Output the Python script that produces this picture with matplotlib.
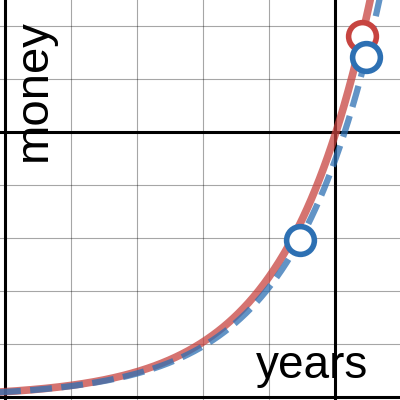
import matplotlib

matplotlib.use("Agg")
import matplotlib.pyplot as plt
import numpy as np

# growth models: money = start * exp(rate * years)
red_start, red_rate = 0.1, 0.78
blue_start, blue_rate = 0.095, 0.77
red_point_x = [5.41]
blue_point_x = [4.47, 5.47]

fig = plt.figure(figsize=(4, 4), dpi=100)
ax = fig.add_axes([0, 0, 1, 1])
ax.set_xlim(-0.076, 5.985)
ax.set_ylim(-0.057, 7.49)
ax.axis("off")

for gx in range(0, 7):
    ax.axvline(gx, color="#000000", lw=2.2 if gx in (0, 5) else 0.8,
               alpha=1 if gx in (0, 5) else 0.35, zorder=1)
for gy in range(0, 8):
    ax.axhline(gy, color="#000000", lw=2.2 if gy in (0, 5) else 0.8,
               alpha=1 if gy in (0, 5) else 0.35, zorder=1)

xs = np.linspace(-0.1, 6.1, 400)
ax.plot(xs, red_start * np.exp(red_rate * xs), color="#c74440", lw=5.5,
        alpha=0.75, zorder=3, solid_capstyle="round")
ax.plot(xs, blue_start * np.exp(blue_rate * xs), color="#2d70b3", lw=4.5,
        alpha=0.75, dashes=(3.5, 1.5), zorder=4)

rx = np.array(red_point_x)
bx = np.array(blue_point_x)
ax.plot(rx, red_start * np.exp(red_rate * rx), "o", ms=20, mfc="white",
        mec="#c74440", mew=4, zorder=5)
ax.plot(bx, blue_start * np.exp(blue_rate * bx), "o", ms=20, mfc="white",
        mec="#2d70b3", mew=4, zorder=5)

ax.text(0.085, 0.775, "money", transform=ax.transAxes, rotation=90,
        fontsize=34, family="Liberation Sans", ha="center", va="center", zorder=6)
ax.text(0.78, 0.085, "years", transform=ax.transAxes,
        fontsize=33, family="Liberation Sans", ha="center", va="center", zorder=6)

fig.savefig("out.png", dpi=100)
